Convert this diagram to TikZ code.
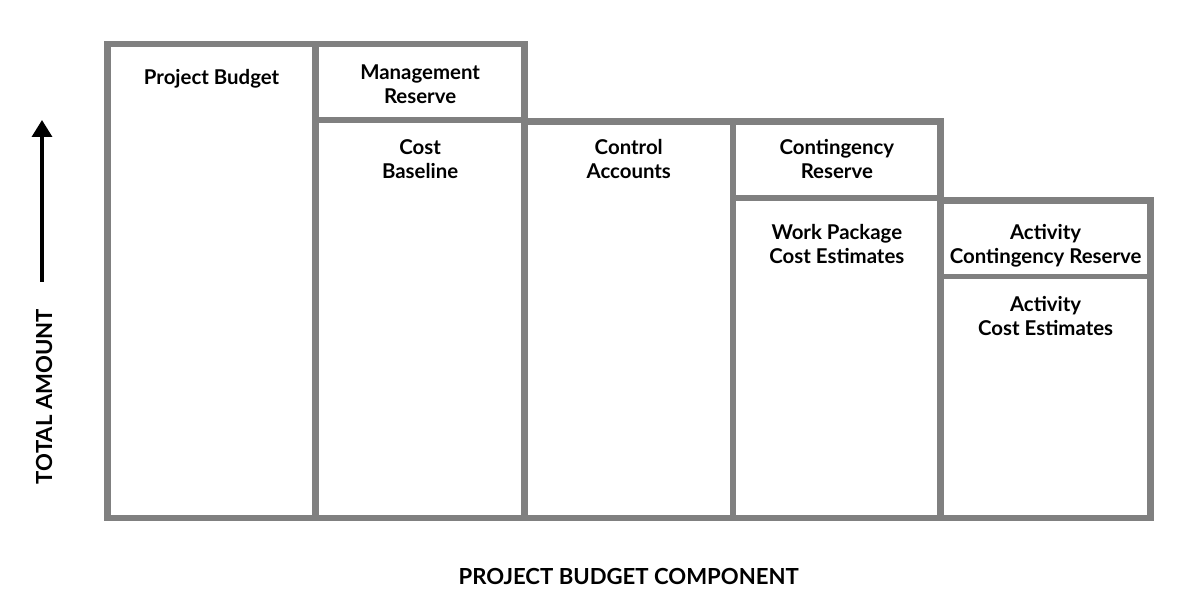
\documentclass[tikz,border=0pt]{standalone}
\usepackage{fontspec}
\setmainfont{Lato}
\usetikzlibrary{arrows.meta}
\definecolor{frameGray}{RGB}{128,128,128}

\begin{document}
\begin{tikzpicture}[
    x=0.75pt, y=-0.75pt,
    font=\bfseries\fontsize{15.3}{18}\selectfont,
    frame/.style  ={draw=frameGray,line width=5pt},
    divider/.style={draw=frameGray,line width=3.8pt},
    lbl/.style    ={align=center,inner sep=0pt,anchor=base},
    axis/.style   ={font=\bfseries\fontsize{16.6}{20}\selectfont,inner sep=0pt,anchor=base},
    arrow/.style  ={-{Triangle[length=12.75pt,width=15pt]},line width=2.5pt},
]

% ---------- Parameters (pixel units, y grows downward) ----------
\def\xA{107.5}    % left edge
\def\xB{315.7}
\def\xC{524.5}
\def\xD{733}
\def\xE{940.7}
\def\xF{1150.5}   % right edge
\def\yBot{518}    % common floor
\def\yTopA{44}    % budget / management top
\def\yTopB{121.3} % accounts / contingency top
\def\yTopC{200.5} % activity top

\useasboundingbox (0,0) rectangle (1200,606);

% ---------- Columns ----------
\draw[frame] (\xA,\yTopA) rectangle (\xB,\yBot);
\draw[frame] (\xB,\yTopA) rectangle (\xC,\yBot);
\draw[frame] (\xC,\yTopB) rectangle (\xD,\yBot);
\draw[frame] (\xD,\yTopB) rectangle (\xE,\yBot);
\draw[frame] (\xE,\yTopC) rectangle (\xF,\yBot);

% reserves split off the top
\draw[divider] (\xB,120) -- (\xC,120);
\draw[divider] (\xD,198) -- (\xE,198);
\draw[divider] (\xE,276.7) -- (\xF,276.7);

% ---------- Labels (base = last line) ----------
\node[lbl] (budget)      at ({(\xA+\xB)/2},85)    {Project Budget};
\node[lbl] (mgmt)        at ({(\xB+\xC)/2},104)   {Management\\Reserve};
\node[lbl] (baseline)    at ({(\xB+\xC)/2},179)   {Cost\\Baseline};
\node[lbl] (accounts)    at ({(\xC+\xD)/2},179)   {Control\\Accounts};
\node[lbl] (contingency) at ({(\xD+\xE)/2},179)   {Contingency\\Reserve};
\node[lbl] (workpkg)     at ({(\xD+\xE)/2},263.5) {Work Package\\Cost Estimates};
\node[lbl] (actres)      at ({(\xE+\xF)/2},263.5) {Activity\\Contingency Reserve};
\node[lbl] (actcost)     at ({(\xE+\xF)/2},335)   {Activity\\Cost Estimates};

% ---------- Axes ----------
\node[axis] (component) at ({(\xC+\xD)/2},584) {PROJECT BUDGET COMPONENT};
\node[axis,rotate=90] (amount) at (52,396.5) {TOTAL AMOUNT};

\coordinate (arrowFoot) at (42,281.7);
\coordinate (arrowTip)  at (42,120);
\draw[arrow] (arrowFoot) -- (arrowTip);

\end{tikzpicture}
\end{document}
